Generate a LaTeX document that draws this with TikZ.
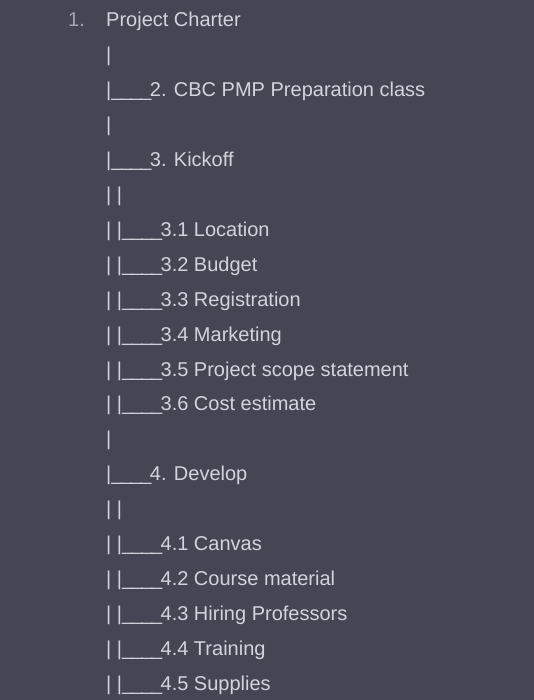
\documentclass[tikz,border=0pt]{standalone}
\usepackage{fontspec}
\setmainfont{Liberation Sans}
\definecolor{bg}{HTML}{444654}
\definecolor{txt}{HTML}{D1D5DB}
\definecolor{num}{HTML}{A3A6B2}
\tikzset{
  line/.style={anchor=base west, inner sep=0pt, text=txt, font=\fontsize{20}{24}\selectfont},
  numtxt/.style={line, text=num}
}
\newcommand{\us}{\_\kern-1.5pt\_\kern-1.5pt\_\kern-1.5pt\_\kern-1.5pt}
\begin{document}
\begin{tikzpicture}[x=1pt,y=-1pt]
\fill[bg] (0,0) rectangle (534,700);
\useasboundingbox (0,0) rectangle (534,700);
\def\sp{34.9}
\node[numtxt] (n1) at (68,27) {1.};
\node[line] (l1) at (106,27) {Project Charter};
\node[line] (l2) at (106,27+1*\sp) {|};
\node[line] (l3) at (106,27+2*\sp) {|\us2. CBC PMP Preparation class};
\node[line] (l4) at (106,27+3*\sp) {|};
\node[line] (l5) at (106,27+4*\sp) {|\us3. Kickoff};
\node[line] (l6) at (106,27+5*\sp) {| |};
\node[line] (l7) at (106,27+6*\sp) {| |\us3.1 Location};
\node[line] (l8) at (106,27+7*\sp) {| |\us3.2 Budget};
\node[line] (l9) at (106,27+8*\sp) {| |\us3.3 Registration};
\node[line] (l10) at (106,27+9*\sp) {| |\us3.4 Marketing};
\node[line] (l11) at (106,27+10*\sp) {| |\us3.5 Project scope statement};
\node[line] (l12) at (106,27+11*\sp) {| |\us3.6 Cost estimate};
\node[line] (l13) at (106,27+12*\sp) {|};
\node[line] (l14) at (106,27+13*\sp) {|\us4. Develop};
\node[line] (l15) at (106,27+14*\sp) {| |};
\node[line] (l16) at (106,27+15*\sp) {| |\us4.1 Canvas};
\node[line] (l17) at (106,27+16*\sp) {| |\us4.2 Course material};
\node[line] (l18) at (106,27+17*\sp) {| |\us4.3 Hiring Professors};
\node[line] (l19) at (106,27+18*\sp) {| |\us4.4 Training};
\node[line] (l20) at (106,27+19*\sp) {| |\us4.5 Supplies};
\end{tikzpicture}
\end{document}
